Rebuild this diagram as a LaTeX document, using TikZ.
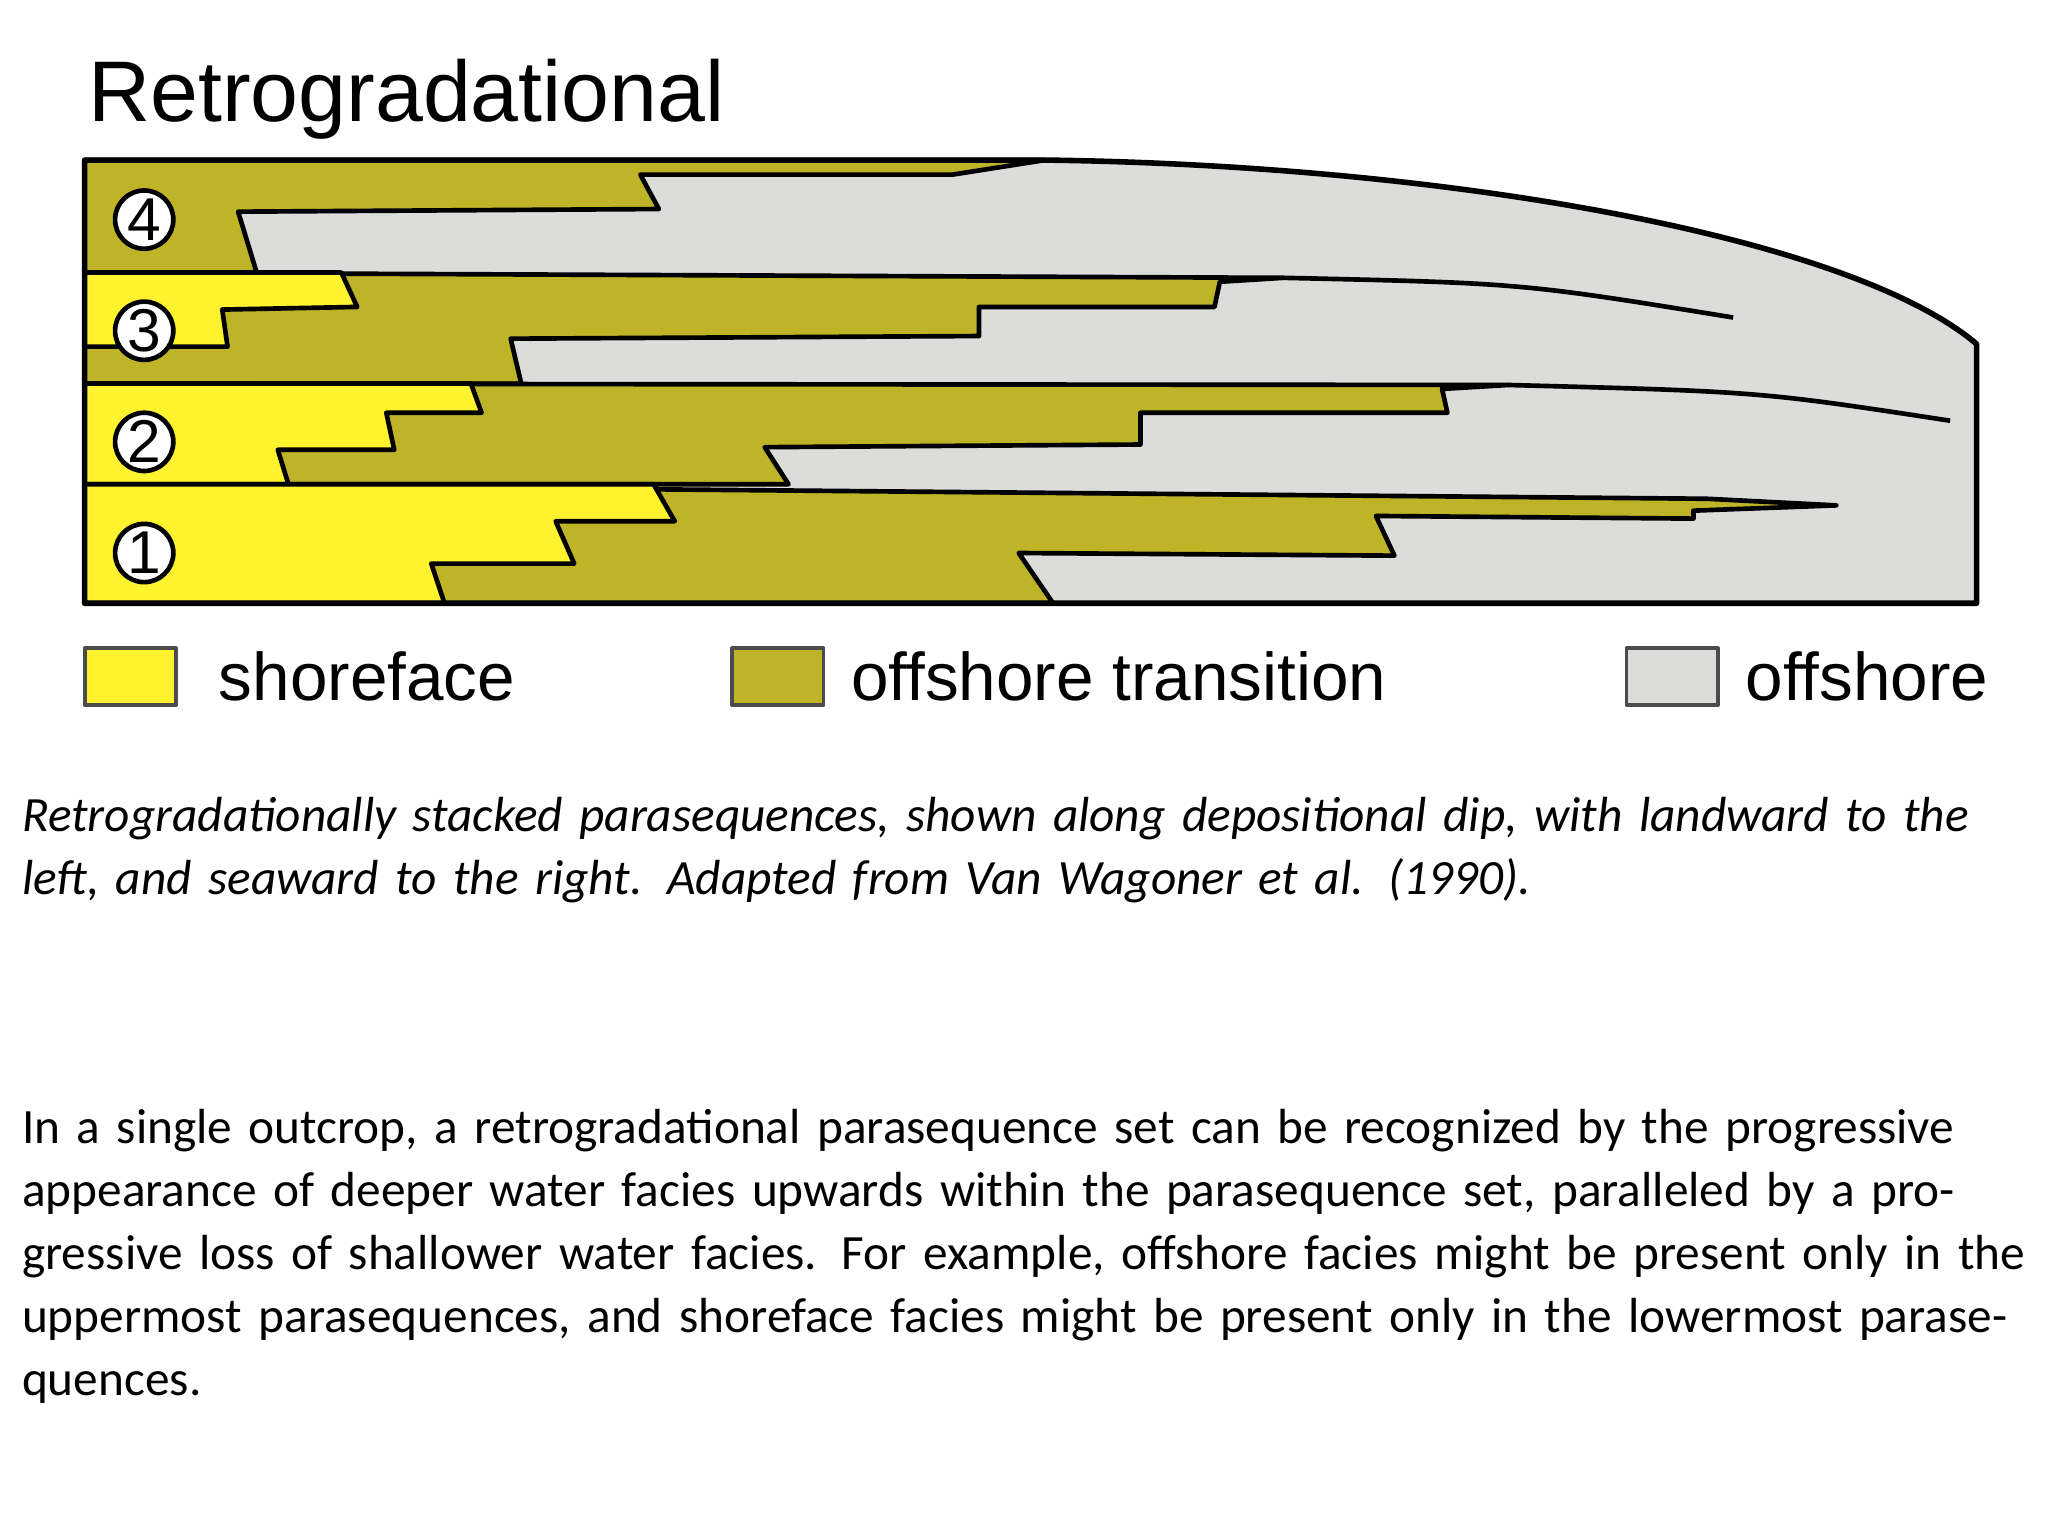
\documentclass[tikz,border=0pt]{standalone}
\usepackage{fontspec}
\setmainfont{Carlito}
\newfontfamily\arial{Liberation Sans}
\definecolor{shore}{HTML}{FFF22E}
\definecolor{olive}{HTML}{BFB327}
\definecolor{offs}{HTML}{DCDCDA}
\begin{document}
\begin{tikzpicture}[x={(0.01cm,0)},y={(0,-0.01cm)},line join=round,
  edge/.style={draw=black,line width=1pt},
  num/.style={circle,draw=black,line width=1pt,fill=white,minimum size=0.44cm,inner sep=0pt,font=\arial\fontsize{13}{13}\selectfont},
  key/.style={draw=black!70,line width=0.8pt,minimum width=0.69cm,minimum height=0.43cm,inner sep=0pt},
  lab/.style={anchor=west,font=\arial\fontsize{14.5}{16}\selectfont}]
\useasboundingbox (0,0) rectangle (1548,1161);
\node[anchor=base west,inner sep=0pt,font=\arial\fontsize{18.5}{20}\selectfont] (title) at (66,92) {Retrogradational};
% background offshore
\fill[offs] (64,121) -- (790,121) .. controls (1100,125) and (1400,180) .. (1494,260) -- (1494,456) -- (64,456) -- cycle;
% offshore transition
\filldraw[fill=olive,edge] (64,121)--(790,121)--(720,132)--(484,132)--(498,158)--(180,160)--(194,206)--(64,206)--cycle;
\filldraw[fill=olive,edge] (64,206)--(970,210)--(922,213)--(918,232)--(740,232)--(740,254)--(386,256)--(394,290)--(64,290)--cycle;
\filldraw[fill=olive,edge] (64,290)--(1140,291)--(1090,294)--(1094,312)--(862,312)--(862,336)--(578,338)--(596,366)--(64,366)--cycle;
\filldraw[fill=olive,edge] (64,366)--(1290,377)--(1388,382)--(1280,386)--(1280,392)--(1040,390)--(1054,420)--(770,418)--(796,456)--(64,456)--cycle;
% shoreface
\filldraw[fill=shore,edge] (64,206)--(258,206)--(270,232)--(168,234)--(172,262)--(64,262)--cycle;
\filldraw[fill=shore,edge] (64,290)--(356,290)--(364,312)--(292,312)--(298,340)--(210,340)--(218,366)--(64,366)--cycle;
\filldraw[fill=shore,edge] (64,366)--(494,366)--(510,394)--(420,394)--(434,426)--(326,426)--(336,456)--(64,456)--cycle;
% thin boundaries
\draw[edge] (970,210) .. controls (1150,214) .. (1310,240);
\draw[edge] (1140,291) .. controls (1330,296) .. (1474,318);
% frame
\draw[edge,line width=1.2pt] (64,121) -- (790,121) .. controls (1100,125) and (1400,180) .. (1494,260) -- (1494,456) -- (64,456) -- cycle;
\node[num] (n4) at (109,166) {4};
\node[num] (n3) at (109,250) {3};
\node[num] (n2) at (109,334) {2};
\node[num] (n1) at (109,418) {1};
% legend
\node[key,fill=shore] (k1) at (98.5,511.5) {};
\node[lab] (l1) at (153,511) {shoreface};
\node[key,fill=olive] (k2) at (588,511.5) {};
\node[lab] (l2) at (631,511) {offshore transition};
\node[key,fill=offs] (k3) at (1264,511.5) {};
\node[lab] (l3) at (1307,511) {offshore};
% captions
\node[anchor=north west,inner sep=0pt,text width=15.2cm,align=left,font=\fontsize{10.6}{13.5}\selectfont\itshape] (cap) at (16,602) {Retrogradationally stacked parasequences, shown along depositional dip, with landward to the left, and seaward to the right. Adapted from Van Wagoner et al. (1990).};
\node[anchor=north west,inner sep=0pt,text width=15.2cm,align=left,font=\fontsize{10.6}{13.5}\selectfont] (body) at (16,838) {In a single outcrop, a retrogradational parasequence set can be recognized by the progressive appearance of deeper water facies upwards within the parasequence set, paralleled by a progressive loss of shallower water facies. For example, offshore facies might be present only in the uppermost parasequences, and shoreface facies might be present only in the lowermost parasequences.};
\end{tikzpicture}
\end{document}
